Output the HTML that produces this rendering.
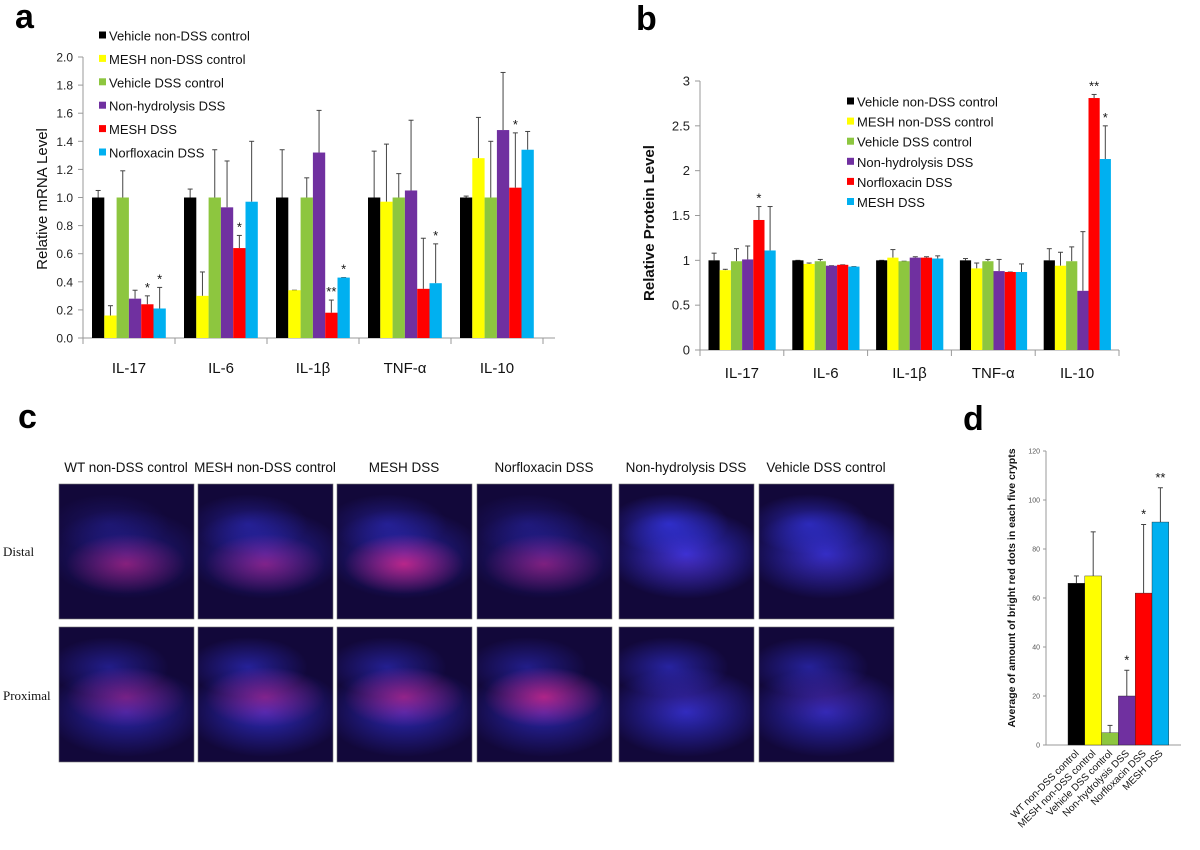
<!DOCTYPE html>
<html><head><meta charset="utf-8">
<style>
html,body{margin:0;padding:0;background:#fff;}
svg{display:block;font-family:"Liberation Sans",Arial,sans-serif;}
</style></head>
<body>
<svg id="fig" width="1200" height="850" viewBox="0 0 1200 850" xmlns="http://www.w3.org/2000/svg">
<defs id="defs">
  <radialGradient id="gRed" cx="50%" cy="50%" r="50%"><stop offset="0" stop-color="#ff2a8a" stop-opacity="0.85"/><stop offset="1" stop-color="#ff2a8a" stop-opacity="0"/></radialGradient>
  <radialGradient id="gBlue" cx="50%" cy="50%" r="50%"><stop offset="0" stop-color="#3a3cff" stop-opacity="0.8"/><stop offset="1" stop-color="#3a3cff" stop-opacity="0"/></radialGradient>
</defs>
<g id="panelA"></g>
<g id="panelB"></g>
<g id="panelC"></g>
<g id="panelD"></g>
</svg>
<script>
// ---------- Panel a data ----------
const aCategories = ["IL-17","IL-6","IL-1β","TNF-α","IL-10"];
const aVehicleNon = [1.0,1.0,1.0,1.0,1.0];
const aVehicleNonErr = [1.05,1.06,1.34,1.33,1.01];
const aMeshNon = [0.16,0.30,0.34,0.97,1.28];
const aMeshNonErr = [0.23,0.47,0.34,1.38,1.57];
const aVehicleDss = [1.0,1.0,1.0,1.0,1.0];
const aVehicleDssErr = [1.19,1.34,1.14,1.17,1.40];
const aNonHyd = [0.28,0.93,1.32,1.05,1.48];
const aNonHydErr = [0.34,1.26,1.62,1.55,1.89];
const aMeshDss = [0.24,0.64,0.18,0.35,1.07];
const aMeshDssErr = [0.30,0.73,0.27,0.71,1.46];
const aNorDss = [0.21,0.97,0.43,0.39,1.34];
const aNorDssErr = [0.36,1.40,0.43,0.67,1.47];
const aStarsMesh = ["*","*","**","","*"];
const aStarsNor = ["*","","*","*",""];
const aTicks = ["0.0","0.2","0.4","0.6","0.8","1.0","1.2","1.4","1.6","1.8","2.0"];
const aLegend = ["Vehicle non-DSS control","MESH non-DSS control","Vehicle DSS control","Non-hydrolysis DSS","MESH DSS","Norfloxacin DSS"];

// ---------- Panel b data ----------
const bCategories = ["IL-17","IL-6","IL-1β","TNF-α","IL-10"];
const bVehicleNon = [1.0,1.0,1.0,1.0,1.0];
const bVehicleNonErr = [1.08,1.0,1.0,1.02,1.13];
const bMeshNon = [0.89,0.96,1.03,0.91,0.94];
const bMeshNonErr = [0.90,0.97,1.12,0.97,1.09];
const bVehicleDss = [0.99,0.99,0.99,0.99,0.99];
const bVehicleDssErr = [1.13,1.01,0.99,1.01,1.15];
const bNonHyd = [1.01,0.94,1.03,0.88,0.66];
const bNonHydErr = [1.16,0.94,1.04,1.01,1.32];
const bNorDss = [1.45,0.95,1.03,0.87,2.81];
const bNorDssErr = [1.60,0.95,1.04,0.87,2.85];
const bMeshDss = [1.11,0.93,1.02,0.87,2.13];
const bMeshDssErr = [1.60,0.93,1.05,0.96,2.50];
const bStarsNor = ["*","","","","**"];
const bStarsMesh = ["","","","","*"];
const bTicks = ["0","0.5","1","1.5","2","2.5","3"];
const bLegend = ["Vehicle non-DSS control","MESH non-DSS control","Vehicle DSS control","Non-hydrolysis DSS","Norfloxacin DSS","MESH DSS"];

// ---------- Panel d data ----------
const dCategories = ["WT non-DSS control","MESH non-DSS control","Vehicle DSS control","Non-hydrolysis DSS","Norfloxacin DSS","MESH DSS"];
const dValues = [66,69,5,20,62,91];
const dErrors = [69,87,8,30.5,90,105];
const dStars = ["","","","*","*","**"];
const dTicks = ["0","20","40","60","80","100","120"];

const NS = "http://www.w3.org/2000/svg";
const C = {black:"#000000",yellow:"#ffff00",green:"#8dc63f",purple:"#7030a0",red:"#ff0000",blue:"#00b0f0"};
function mk(parent, tag, attrs, text){
  const e=document.createElementNS(NS,tag);
  for(const k in attrs) e.setAttribute(k,attrs[k]);
  if(text!==undefined) e.textContent=text;
  parent.appendChild(e); return e;
}

function groupChart(g, o){
  const y = v => o.y0 - (v/o.vmax)*(o.y0-o.y1);
  const gw = (o.xEnd-o.x0)/o.cats.length;
  const x = (ci,si) => o.x0 + ci*gw + o.off + si*o.bw;
  const ax=mk(g,"line",{x1:o.x0,y1:o.y1,x2:o.x0,y2:o.y0,stroke:"#999","stroke-width":1});
  
  
  const xa=mk(g,"line",{x1:o.x0,y1:o.y0,x2:o.xEnd+o.extra,y2:o.y0,stroke:"#999","stroke-width":1});
  
  
  o.ticks.forEach(t=>{
    const v=parseFloat(t), yy=y(v);
    mk(g,"line",{x1:o.x0-5,y1:yy,x2:o.x0,y2:yy,stroke:"#999"});
    const tl=mk(g,"text",{x:o.x0-10,y:yy+4.5,"text-anchor":"end","font-size":o.tickFs,fill:"#222"},t);
    
    
  });
  for(let i=0;i<=o.cats.length;i++){
    const xx=o.x0+i*gw;
    mk(g,"line",{x1:xx,y1:o.y0,x2:xx,y2:o.y0+6,stroke:"#999"});
  }
  o.cats.forEach((c,ci)=>{
    const cl=mk(g,"text",{x:o.x0+ci*gw+gw/2,y:o.catY,"text-anchor":"middle","font-size":o.catFs,fill:"#111"},c);
    
    
  });
  o.series.forEach((s,si)=>{
    s.vals.forEach((v,ci)=>{
      const xx=x(ci,si);
      const top=y(s.errs[ci]);
      mk(g,"line",{x1:xx+o.bw/2,y1:y(v),x2:xx+o.bw/2,y2:top,stroke:"#444","stroke-width":1});
      mk(g,"line",{x1:xx+o.bw/2-2.5,y1:top,x2:xx+o.bw/2+2.5,y2:top,stroke:"#444","stroke-width":1});
      const r=mk(g,"rect",{x:xx,y:y(v),width:o.bw,height:o.y0-y(v),fill:s.color});
      
      
      if(s.stars && s.stars[ci]){
        const st=mk(g,"text",{x:xx+o.bw/2,y:top-4,"text-anchor":"middle","font-size":13,fill:"#111"},s.stars[ci]);
        
        
      }
    });
  });
}
function legend(g, names, colors, x, y0, dy, fs, sq){
  names.forEach((n,i)=>{
    const yy=y0+i*dy;
    const e=mk(g,"g",{});
    
    
    mk(e,"rect",{x:x,y:yy-sq/2-1,width:sq,height:sq,fill:colors[i]});
    mk(e,"text",{x:x+sq+3,y:yy+4.5,"font-size":fs,fill:"#111"},n);
  });
}

// ---------- Panel a ----------
const A=document.getElementById("panelA");
const la=mk(A,"text",{x:15,y:28,"font-size":34,"font-weight":"bold"},"a");


groupChart(A,{x0:83,xEnd:543,extra:12,y0:338,y1:57,vmax:2.0,off:9,bw:12.3,ticks:aTicks,tickFs:12,cats:aCategories,catY:373,catFs:15,
  series:[
    {key:"vehicle-non-dss",color:C.black,vals:aVehicleNon,errs:aVehicleNonErr},
    {key:"mesh-non-dss",color:C.yellow,vals:aMeshNon,errs:aMeshNonErr},
    {key:"vehicle-dss",color:C.green,vals:aVehicleDss,errs:aVehicleDssErr},
    {key:"non-hydrolysis",color:C.purple,vals:aNonHyd,errs:aNonHydErr},
    {key:"mesh-dss",color:C.red,vals:aMeshDss,errs:aMeshDssErr,stars:aStarsMesh},
    {key:"norfloxacin-dss",color:C.blue,vals:aNorDss,errs:aNorDssErr,stars:aStarsNor}
  ]});
legend(A,aLegend,[C.black,C.yellow,C.green,C.purple,C.red,C.blue],99,36,23.4,13,7);
const ta=mk(A,"text",{x:0,y:0,"text-anchor":"middle","font-size":15,fill:"#111",transform:"translate(47,199) rotate(-90)"},"Relative mRNA  Level");



// ---------- Panel b ----------
const B=document.getElementById("panelB");
const lb=mk(B,"text",{x:636,y:30,"font-size":34,"font-weight":"bold"},"b");


groupChart(B,{x0:700,xEnd:1119,extra:0,y0:350,y1:81,vmax:3,off:8.5,bw:11.2,ticks:bTicks,tickFs:13,cats:bCategories,catY:378,catFs:15,
  series:[
    {key:"vehicle-non-dss",color:C.black,vals:bVehicleNon,errs:bVehicleNonErr},
    {key:"mesh-non-dss",color:C.yellow,vals:bMeshNon,errs:bMeshNonErr},
    {key:"vehicle-dss",color:C.green,vals:bVehicleDss,errs:bVehicleDssErr},
    {key:"non-hydrolysis",color:C.purple,vals:bNonHyd,errs:bNonHydErr},
    {key:"norfloxacin-dss",color:C.red,vals:bNorDss,errs:bNorDssErr,stars:bStarsNor},
    {key:"mesh-dss",color:C.blue,vals:bMeshDss,errs:bMeshDssErr,stars:bStarsMesh}
  ]});
legend(B,bLegend,[C.black,C.yellow,C.green,C.purple,C.red,C.blue],847,102,20.1,13,7);
const tb=mk(B,"text",{x:0,y:0,"text-anchor":"middle","font-size":15,"font-weight":"bold",fill:"#111",transform:"translate(654,223) rotate(-90)"},"Relative  Protein  Level");



// ---------- Panel c (micrographs) ----------
const Cg=document.getElementById("panelC");
const defs=document.getElementById("defs");
const lc=mk(Cg,"text",{x:18,y:428,"font-size":34,"font-weight":"bold"},"c");


const cLabels=["WT non-DSS control","MESH non-DSS control","MESH DSS","Norfloxacin DSS","Non-hydrolysis DSS","Vehicle DSS control"];
const cColX=[59,198,337,477,619,759];
const cRowY=[484,627];
const cRed=[[0.55,0.45],[0.5,0.5],[0.8,0.6],[0.5,0.75],[0.1,0.05],[0.05,0.1]];
const cBlue=[[0.25,0.5],[0.45,0.6],[0.45,0.55],[0.3,0.5],[0.8,0.65],[0.7,0.6]];
cLabels.forEach((t,i)=>{
  const l=mk(Cg,"text",{x:cColX[i]+67,y:472,"text-anchor":"middle","font-size":13.5,fill:"#111"},t);
  
  
});
const rl1=mk(Cg,"text",{x:3,y:556,"font-size":13,"font-family":"Liberation Serif,serif",fill:"#111"},"Distal");


const rl2=mk(Cg,"text",{x:3,y:700,"font-size":13,"font-family":"Liberation Serif,serif",fill:"#111"},"Proximal");


cRowY.forEach((yy,ri)=>{
  cColX.forEach((xx,ci)=>{
    const cid="clip"+ri+"_"+ci;
    const cp=mk(defs,"clipPath",{id:cid});
    mk(cp,"rect",{x:xx,y:yy,width:135,height:135});
    const tile=mk(Cg,"g",{"clip-path":"url(#"+cid+")"});
    
    
    mk(tile,"rect",{x:xx,y:yy,width:135,height:135,fill:"#12083a"});
    const bI=cBlue[ci][ri];
    mk(tile,"ellipse",{cx:xx+67,cy:yy+(ri?85:70),rx:80,ry:45,fill:"url(#gBlue)",opacity:bI+0.2});
    mk(tile,"ellipse",{cx:xx+50,cy:yy+40,rx:60,ry:30,fill:"url(#gBlue)",opacity:bI});
    const rI=cRed[ci][ri];
    mk(tile,"ellipse",{cx:xx+67,cy:yy+(ri?70:80),rx:60,ry:30,fill:"url(#gRed)",opacity:rI});
    mk(Cg,"rect",{x:xx,y:yy,width:135,height:135,fill:"none",stroke:"#777","stroke-width":0.6});
  });
});

// ---------- Panel d ----------
const D=document.getElementById("panelD");
const ld=mk(D,"text",{x:963,y:430,"font-size":34,"font-weight":"bold"},"d");


(function(){
  const x0=1046, xEnd=1181, y0=745, y1=451, vmax=120, bx0=1068, bw=16.8;
  const y=v=>y0-(v/vmax)*(y0-y1);
  mk(D,"line",{x1:x0,y1:y1,x2:x0,y2:y0,stroke:"#999"});
  mk(D,"line",{x1:x0,y1:y0,x2:xEnd,y2:y0,stroke:"#999"});
  dTicks.forEach(t=>{
    const yy=y(parseFloat(t));
    mk(D,"line",{x1:x0-3,y1:yy,x2:x0,y2:yy,stroke:"#999"});
    const tl=mk(D,"text",{x:x0-6,y:yy+2.5,"text-anchor":"end","font-size":7,fill:"#555"},t);
    
    
  });
  const cols=[C.black,C.yellow,C.green,C.purple,C.red,C.blue];
  dValues.forEach((v,i)=>{
    const xx=bx0+i*bw, top=y(dErrors[i]);
    mk(D,"line",{x1:xx+bw/2,y1:y(v),x2:xx+bw/2,y2:top,stroke:"#444"});
    mk(D,"line",{x1:xx+bw/2-2.5,y1:top,x2:xx+bw/2+2.5,y2:top,stroke:"#444"});
    const r=mk(D,"rect",{x:xx,y:y(v),width:bw,height:y0-y(v),fill:cols[i],stroke:"#222","stroke-width":0.4});
    
    
    if(dStars[i]){
      const st=mk(D,"text",{x:xx+bw/2,y:top-6,"text-anchor":"middle","font-size":13,fill:"#111"},dStars[i]);
      
      
    }
    const lab=mk(D,"text",{x:0,y:0,"text-anchor":"end","font-size":10,fill:"#111",transform:"translate("+(xx+bw/2+3)+",754) rotate(-45)"},dCategories[i]);
    
    
  });
  const td=mk(D,"text",{x:0,y:0,"text-anchor":"middle","font-size":10.5,"font-weight":"bold",fill:"#111",transform:"translate(1015,588) rotate(-90)"},"Average of amount of bright red dots in each five crypts");
  
  
})();
</script>
</body></html>
